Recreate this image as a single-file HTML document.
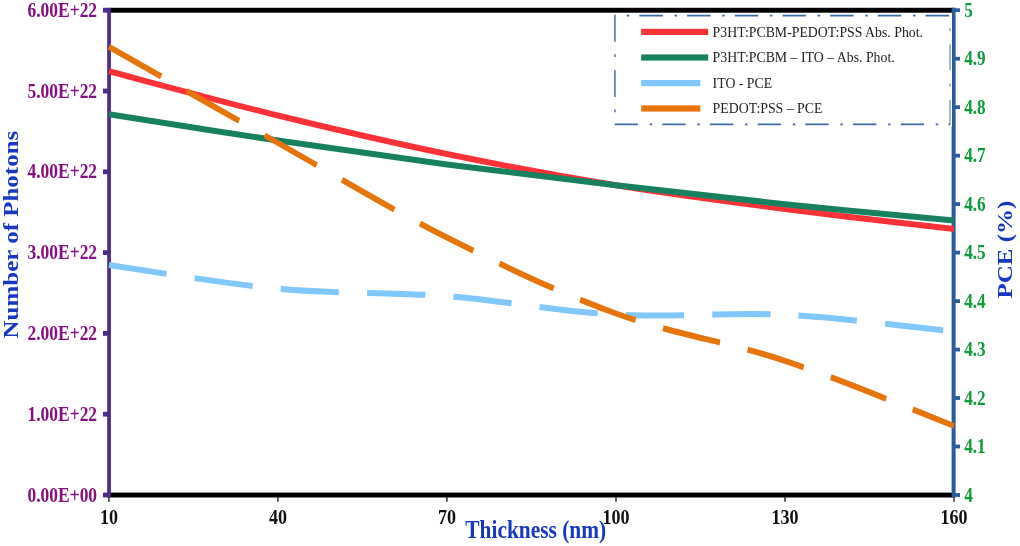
<!DOCTYPE html><html><head><meta charset="utf-8"><title>Chart</title><style>html,body{margin:0;padding:0;background:#fff}svg{display:block;filter:blur(0.45px)}text{font-family:"Liberation Serif",serif}</style></head><body>
<svg width="1020" height="546" viewBox="0 0 1020 546">
<rect width="1020" height="546" fill="#fff"/>
<rect x="109" y="7.8" width="846" height="4.9" fill="#000"/>
<rect x="109" y="492.6" width="846" height="4.9" fill="#000"/>
<rect x="108.2" y="497" width="1.4" height="4.8" fill="#222"/>
<text transform="translate(108.9,524.3) scale(0.86,1)" text-anchor="middle" font-size="21" font-weight="bold" fill="#111">10</text>
<rect x="277.2" y="497" width="1.4" height="4.8" fill="#222"/>
<text transform="translate(277.9,524.3) scale(0.86,1)" text-anchor="middle" font-size="21" font-weight="bold" fill="#111">40</text>
<rect x="446.2" y="497" width="1.4" height="4.8" fill="#222"/>
<text transform="translate(446.9,524.3) scale(0.86,1)" text-anchor="middle" font-size="21" font-weight="bold" fill="#111">70</text>
<rect x="615.3" y="497" width="1.4" height="4.8" fill="#222"/>
<text transform="translate(616.0,524.3) scale(0.86,1)" text-anchor="middle" font-size="21" font-weight="bold" fill="#111">100</text>
<rect x="784.3" y="497" width="1.4" height="4.8" fill="#222"/>
<text transform="translate(785.0,524.3) scale(0.86,1)" text-anchor="middle" font-size="21" font-weight="bold" fill="#111">130</text>
<rect x="953.3" y="497" width="1.4" height="4.8" fill="#222"/>
<text transform="translate(954.0,524.3) scale(0.86,1)" text-anchor="middle" font-size="21" font-weight="bold" fill="#111">160</text>
<rect x="107.2" y="7.8" width="3.7" height="489.7" fill="#4b2a8c"/>
<rect x="103" y="7.8" width="5" height="4.8" fill="#4b2a8c"/>
<text transform="translate(97.1,16.8) scale(0.873,1)" text-anchor="end" font-size="20" font-weight="bold" fill="#85107f">6.00E+22</text>
<rect x="103" y="88.6" width="5" height="4.8" fill="#4b2a8c"/>
<text transform="translate(97.1,97.6) scale(0.873,1)" text-anchor="end" font-size="20" font-weight="bold" fill="#85107f">5.00E+22</text>
<rect x="103" y="169.4" width="5" height="4.8" fill="#4b2a8c"/>
<text transform="translate(97.1,178.4) scale(0.873,1)" text-anchor="end" font-size="20" font-weight="bold" fill="#85107f">4.00E+22</text>
<rect x="103" y="250.2" width="5" height="4.8" fill="#4b2a8c"/>
<text transform="translate(97.1,259.2) scale(0.873,1)" text-anchor="end" font-size="20" font-weight="bold" fill="#85107f">3.00E+22</text>
<rect x="103" y="331.0" width="5" height="4.8" fill="#4b2a8c"/>
<text transform="translate(97.1,340.0) scale(0.873,1)" text-anchor="end" font-size="20" font-weight="bold" fill="#85107f">2.00E+22</text>
<rect x="103" y="411.8" width="5" height="4.8" fill="#4b2a8c"/>
<text transform="translate(97.1,420.8) scale(0.873,1)" text-anchor="end" font-size="20" font-weight="bold" fill="#85107f">1.00E+22</text>
<rect x="103" y="492.6" width="5" height="4.8" fill="#4b2a8c"/>
<text transform="translate(97.1,501.6) scale(0.873,1)" text-anchor="end" font-size="20" font-weight="bold" fill="#85107f">0.00E+00</text>
<rect x="951.6" y="7.8" width="4" height="489.7" fill="#2a5b9c"/>
<rect x="955" y="8.3" width="5" height="3.8" fill="#2a5b9c"/>
<text transform="translate(964.2,16.8) scale(0.86,1)" font-size="20" font-weight="bold" fill="#0c9c3a">5</text>
<rect x="955" y="56.8" width="5" height="3.8" fill="#2a5b9c"/>
<text transform="translate(964.2,65.3) scale(0.86,1)" font-size="20" font-weight="bold" fill="#0c9c3a">4.9</text>
<rect x="955" y="105.3" width="5" height="3.8" fill="#2a5b9c"/>
<text transform="translate(964.2,113.8) scale(0.86,1)" font-size="20" font-weight="bold" fill="#0c9c3a">4.8</text>
<rect x="955" y="153.7" width="5" height="3.8" fill="#2a5b9c"/>
<text transform="translate(964.2,162.2) scale(0.86,1)" font-size="20" font-weight="bold" fill="#0c9c3a">4.7</text>
<rect x="955" y="202.2" width="5" height="3.8" fill="#2a5b9c"/>
<text transform="translate(964.2,210.7) scale(0.86,1)" font-size="20" font-weight="bold" fill="#0c9c3a">4.6</text>
<rect x="955" y="250.7" width="5" height="3.8" fill="#2a5b9c"/>
<text transform="translate(964.2,259.2) scale(0.86,1)" font-size="20" font-weight="bold" fill="#0c9c3a">4.5</text>
<rect x="955" y="299.2" width="5" height="3.8" fill="#2a5b9c"/>
<text transform="translate(964.2,307.7) scale(0.86,1)" font-size="20" font-weight="bold" fill="#0c9c3a">4.4</text>
<rect x="955" y="347.7" width="5" height="3.8" fill="#2a5b9c"/>
<text transform="translate(964.2,356.2) scale(0.86,1)" font-size="20" font-weight="bold" fill="#0c9c3a">4.3</text>
<rect x="955" y="396.1" width="5" height="3.8" fill="#2a5b9c"/>
<text transform="translate(964.2,404.6) scale(0.86,1)" font-size="20" font-weight="bold" fill="#0c9c3a">4.2</text>
<rect x="955" y="444.6" width="5" height="3.8" fill="#2a5b9c"/>
<text transform="translate(964.2,453.1) scale(0.86,1)" font-size="20" font-weight="bold" fill="#0c9c3a">4.1</text>
<rect x="955" y="493.1" width="5" height="3.8" fill="#2a5b9c"/>
<text transform="translate(964.2,501.6) scale(0.86,1)" font-size="20" font-weight="bold" fill="#0c9c3a">4</text>
<g transform="scale(1,1.1667)" fill="none">
<path d="M108.90,61.11 C137.07,67.43 221.58,87.18 277.92,99.00 C334.26,110.81 390.60,122.03 446.94,132.00 C503.28,141.97 559.62,150.97 615.96,158.82 C672.30,166.68 728.64,172.88 784.98,179.14 C841.32,185.39 925.83,193.49 954.00,196.37" stroke="#fc3236" stroke-width="5.15"/>
<path d="M108.90,97.88 C137.07,101.65 221.58,113.34 277.92,120.51 C334.26,127.68 390.60,134.52 446.94,140.91 C503.28,147.30 559.62,153.12 615.96,158.82 C672.30,164.52 728.64,170.10 784.98,175.11 C841.32,180.12 925.83,186.61 954.00,188.91" stroke="#17805f" stroke-width="5.2"/>
<path d="M108.90,227.14 C137.07,230.52 221.58,242.99 277.92,247.45 C334.26,251.91 390.60,250.18 446.94,253.88 C503.28,257.58 559.62,266.99 615.96,269.65 C672.30,272.31 728.64,267.41 784.98,269.82 C841.32,272.24 925.83,281.75 954.00,284.13" stroke="#80c7fc" stroke-width="5.15" stroke-dasharray="58.3 28.2"/>
<path d="M108.90,40.03 C137.07,53.77 221.58,95.21 277.92,122.48 C334.26,149.75 390.60,179.28 446.94,203.65 C503.28,228.02 559.62,251.11 615.96,268.71 C672.30,286.31 728.64,293.18 784.98,309.25 C841.32,325.32 925.83,355.82 954.00,365.13" stroke="#e6740a" stroke-width="5.15" stroke-dasharray="58.3 28.2"/>
</g>
<text transform="translate(535.75,537.9) scale(0.877,1)" text-anchor="middle" font-size="24.4" font-weight="bold" fill="#1738c0">Thickness (nm)</text>
<text transform="translate(18,234.6) rotate(-90) scale(1,0.848)" text-anchor="middle" font-size="25" font-weight="bold" fill="#1738c0">Number of Photons</text>
<text transform="translate(1012.0,249.6) rotate(-90) scale(1,0.848)" text-anchor="middle" font-size="25" font-weight="bold" fill="#1738c0">PCE (%)</text>
<rect x="612" y="13" width="340" height="114" fill="#fff"/>
<path d="M614.7,15.6 H951.5" fill="none" stroke="#3b6caa" stroke-width="1.9" stroke-dasharray="23.4 11.7 2.5 10.1" stroke-dashoffset="-24.7"/>
<path d="M614.7,124.4 H950" fill="none" stroke="#3b6caa" stroke-width="1.9" stroke-dasharray="23.4 11.7 2.5 10.1" stroke-dashoffset="0.2"/>
<path d="M614.9,14.8 V124.4" fill="none" stroke="#3b6caa" stroke-width="1.6" stroke-dasharray="27 12.4 2.8 13" opacity="0.9"/>
<path d="M950,124.4 V15.6" fill="none" stroke="#3b6caa" stroke-width="1.2" stroke-dasharray="25.4 13.6 2.8 13.6" stroke-dashoffset="1" opacity="0.8"/>
<rect x="641.2" y="28.8" width="67.0" height="6.2" fill="#fc3236"/>
<text transform="translate(712.6,36.6) scale(0.947,1)" font-size="14.6" fill="#222">P3HT:PCBM-PEDOT:PSS Abs. Phot.</text>
<rect x="641.2" y="54.4" width="67.0" height="6.2" fill="#17805f"/>
<text transform="translate(712.6,62.2) scale(0.947,1)" font-size="14.6" fill="#222">P3HT:PCBM – ITO – Abs. Phot.</text>
<rect x="641.2" y="80.0" width="59.1" height="6.2" fill="#80c7fc"/>
<text transform="translate(712.6,87.8) scale(0.947,1)" font-size="14.6" fill="#222">ITO - PCE</text>
<rect x="641.2" y="105.4" width="59.1" height="6.2" fill="#e6740a"/>
<text transform="translate(712.6,113.2) scale(0.947,1)" font-size="14.6" fill="#222">PEDOT:PSS – PCE</text>
</svg></body></html>
